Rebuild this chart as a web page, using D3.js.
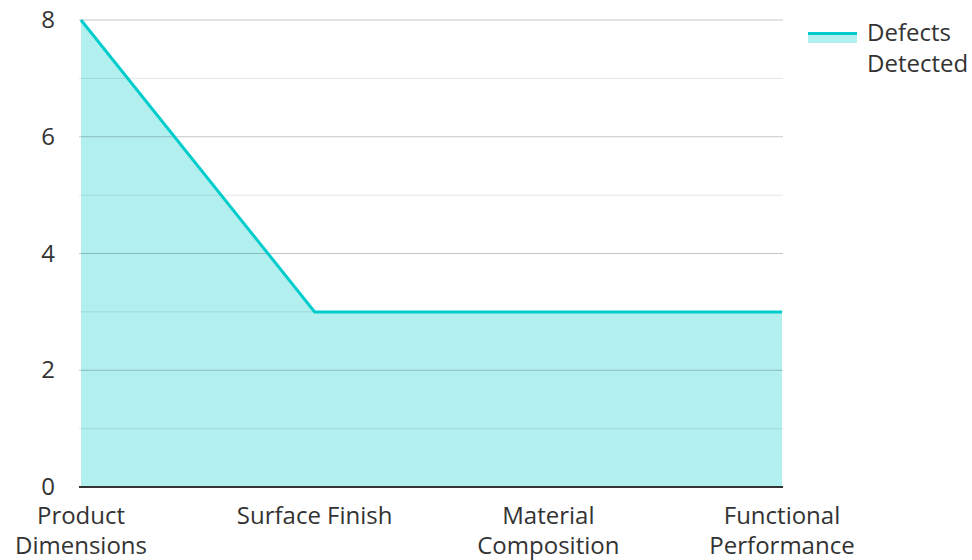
<!DOCTYPE html>
<html>
<head>
<meta charset="utf-8">
<script src="https://cdn.jsdelivr.net/npm/d3@7"></script>
<style>
  body { margin: 0; background: #fff; }
  svg { font-family: "Open Sans", "Noto Sans", sans-serif; }
</style>
</head>
<body>
<div id="myChart"></div>
<script>
// Data
const categories = ["Product Dimensions", "Surface Finish", "Material Composition", "Functional Performance"];
const defects = [8, 3, 3, 3];
const seriesName = "Defects Detected";
const yTicks = [0, 2, 4, 6, 8];

const w = 972;
const h = 560;
const margin = {top: 20, left: 81, bottom: 73, right: 190};
const innerWidth = w - margin.left - margin.right;
const innerHeight = h - margin.top - margin.bottom;

const lineColor = "rgb(0,204,204)";
const fillColor = "rgba(0,204,204,0.3)";
const textColor = "#333";
const fontSize = 24;

const svg = d3.select("#myChart")
  .append("svg")
    .attr("width", w)
    .attr("height", h);

const mainG = svg.append("g")
    .attr("transform", `translate(${margin.left}, ${margin.top})`);

const xScale = d3.scalePoint()
  .domain(categories)
  .range([0, innerWidth]);

const yScale = d3.scaleLinear()
  .domain([0, 8])
  .range([innerHeight, 0]);

const data = categories.map((c, i) => ({cat: c, value: defects[i]}));

// Area + line
const area = d3.area()
  .x(d => xScale(d.cat))
  .y0(yScale(0))
  .y1(d => yScale(d.value));

const line = d3.line()
  .x(d => xScale(d.cat))
  .y(d => yScale(d.value));

mainG.append("path")
  .datum(data)
  .attr("fill", fillColor)
  .attr("d", area);

// Grid lines (drawn over the area)
const grid = mainG.append("g");
grid.selectAll("line.minor")
  .data(d3.range(1, 8, 2))
  .join("line")
    .attr("x1", -2).attr("x2", innerWidth + 1)
    .attr("y1", d => yScale(d)).attr("y2", d => yScale(d))
    .attr("stroke", "rgba(0,0,0,0.1)")
    .attr("stroke-width", 1);
grid.selectAll("line.major")
  .data(yTicks.filter(d => d > 0))
  .join("line")
    .attr("x1", -2).attr("x2", innerWidth + 1)
    .attr("y1", d => yScale(d)).attr("y2", d => yScale(d))
    .attr("stroke", "rgba(0,0,0,0.22)")
    .attr("stroke-width", 1);

mainG.append("path")
  .datum(data)
  .attr("fill", "none")
  .attr("stroke", lineColor)
  .attr("stroke-width", 3)
  .attr("stroke-linejoin", "miter")
  .attr("d", line);

// x axis line
mainG.append("line")
  .attr("x1", -2).attr("x2", innerWidth + 1)
  .attr("y1", innerHeight).attr("y2", innerHeight)
  .attr("stroke", "#333")
  .attr("stroke-width", 2);

// y axis labels
const yAxis = d3.axisLeft(yScale).tickValues(yTicks).tickSize(0).tickPadding(26);
const yG = mainG.append("g").call(yAxis);
yG.select(".domain").remove();
yG.selectAll("text")
  .attr("font-size", fontSize)
  .attr("font-family", "'Open Sans', sans-serif")
  .attr("fill", textColor);

// wrap a label into lines no wider than maxW
function wrapLines(label, maxW, size) {
  const probe = svg.append("text").attr("font-size", size);
  const lines = [];
  let cur = "";
  label.split(" ").forEach(wd => {
    const test = cur ? cur + " " + wd : wd;
    probe.text(test);
    if (cur && probe.node().getComputedTextLength() > maxW) {
      lines.push(cur);
      cur = wd;
    } else {
      cur = test;
    }
  });
  lines.push(cur);
  probe.remove();
  return lines;
}

// x axis labels
const xG = mainG.append("g");
categories.forEach(c => {
  const t = xG.append("text")
    .attr("text-anchor", "middle")
    .attr("font-size", fontSize)
    .attr("fill", textColor)
    .attr("x", xScale(c))
    .attr("y", innerHeight + 37);
  wrapLines(c, 185, fontSize).forEach((wd, i) => {
    t.append("tspan")
      .attr("x", xScale(c))
      .attr("dy", i === 0 ? 0 : 30)
      .text(wd);
  });
});

// Legend
const lg = svg.append("g").attr("transform", "translate(808, 32)");
lg.append("rect")
  .attr("x", 0).attr("y", 0)
  .attr("width", 49).attr("height", 11)
  .attr("fill", fillColor);
lg.append("line")
  .attr("x1", 0).attr("x2", 49)
  .attr("y1", 1.5).attr("y2", 1.5)
  .attr("stroke", lineColor)
  .attr("stroke-width", 3);
const lt = lg.append("text")
  .attr("font-size", fontSize)
  .attr("fill", textColor)
  .attr("x", 59)
  .attr("y", 9);
seriesName.split(" ").forEach((wd, i) => {
  lt.append("tspan").attr("x", 59).attr("dy", i === 0 ? 0 : 31).text(wd);
});
</script>
</body>
</html>
